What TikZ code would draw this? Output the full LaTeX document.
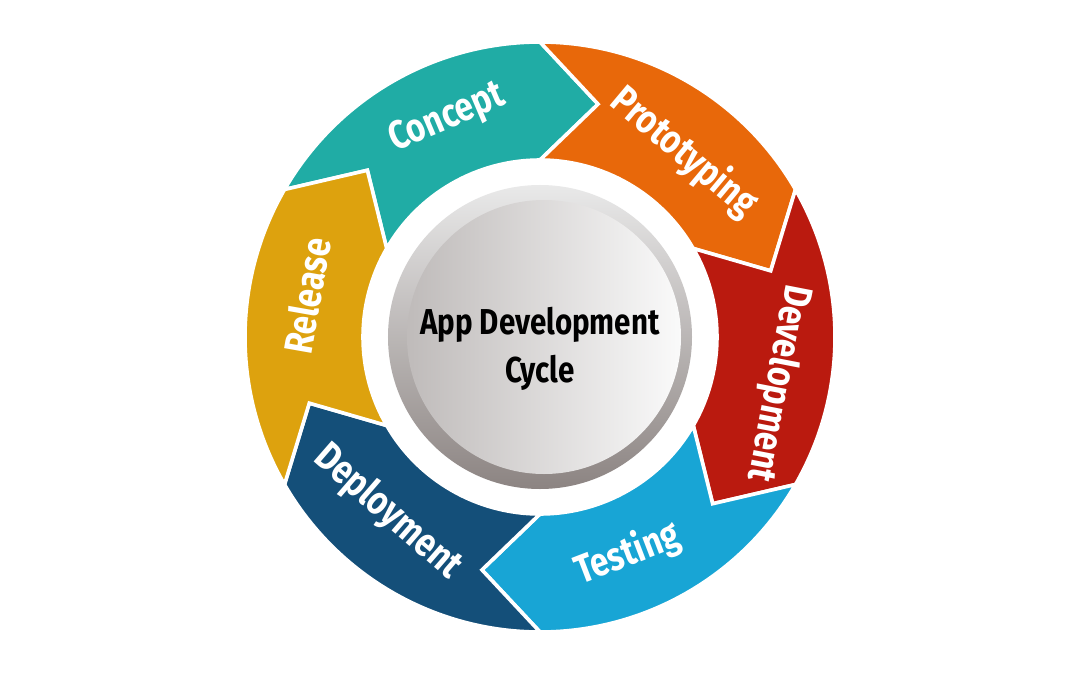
\documentclass[tikz,border=0pt]{standalone}
\usepackage{fontspec}
\setmainfont{Fira Sans}[FakeStretch=0.82]
\definecolor{conceptc}{HTML}{20ACA5}
\definecolor{protoc}{HTML}{E8680A}
\definecolor{develc}{HTML}{BA1A0F}
\definecolor{testc}{HTML}{18A5D5}
\definecolor{deployc}{HTML}{144F79}
\definecolor{releasec}{HTML}{DDA20E}
\definecolor{rimtop}{HTML}{E9E9E9}
\definecolor{rimbottom}{HTML}{8C8482}
\definecolor{discleft}{HTML}{BFBBBA}
\definecolor{discright}{HTML}{FAFAFA}
\pgfdeclareradialshading{bgglow}{\pgfpoint{0bp}{0bp}}{color(0bp)=(white); color(40bp)=(white); color(71bp)=(black!9)}
\tikzset{
  seg/.style={draw=white, line width=1.8pt, line join=miter},
  phase/.style={text=white, font=\bfseries\fontsize{20}{23}\selectfont, inner sep=0pt},
}
\begin{document}
\begin{tikzpicture}[x=0.5pt,y=0.5pt]
                \useasboundingbox (-540,-338) rectangle (540,337);
                \shade[shading=bgglow] (-540,-338) rectangle (540,337);

                % ring of arrows, clockwise
                \path[seg, fill=conceptc] (150:295) arc[start angle=150, end angle=90, radius=295] -- (76:240) -- (90:177) arc[start angle=90, end angle=150, radius=177] -- (136:240) -- cycle;
                \path[seg, fill=protoc] (90:295) arc[start angle=90, end angle=30, radius=295] -- (16:240) -- (30:177) arc[start angle=30, end angle=90, radius=177] -- (76:240) -- cycle;
                \path[seg, fill=develc] (30:295) arc[start angle=30, end angle=-30, radius=295] -- (-44:240) -- (-30:177) arc[start angle=-30, end angle=30, radius=177] -- (16:240) -- cycle;
                \path[seg, fill=testc] (-30:295) arc[start angle=-30, end angle=-90, radius=295] -- (-104:240) -- (-90:177) arc[start angle=-90, end angle=-30, radius=177] -- (-44:240) -- cycle;
                \path[seg, fill=deployc] (-90:295) arc[start angle=-90, end angle=-150, radius=295] -- (-164:240) -- (-150:177) arc[start angle=-150, end angle=-90, radius=177] -- (-104:240) -- cycle;
                \path[seg, fill=releasec] (210:295) arc[start angle=210, end angle=150, radius=295] -- (136:240) -- (150:177) arc[start angle=150, end angle=210, radius=177] -- (196:240) -- cycle;

                \node[phase, rotate=23] (concept) at (113:237) {Concept}; \node[phase, rotate=-40] (proto) at (52:234) {Prototyping};
                \node[phase, rotate=-101] (devel) at (-11:242) {Development}; \node[phase, rotate=21] (testing) at (-68:234) {Testing};
                \node[phase, rotate=-41] (deploy) at (-131:232) {Deployment}; \node[phase, rotate=80] (release) at (170:237) {Release};

                % centre disc
                \shade[top color=rimtop, bottom color=rimbottom] (0,0) circle[radius=152];
                \shade[left color=discleft, right color=discright] (4,0) circle[radius=137];
                \node[align=center, font=\bfseries\fontsize{18}{24}\selectfont] (title) at (0,-12) {App Development\\Cycle};
            \end{tikzpicture}
\end{document}
